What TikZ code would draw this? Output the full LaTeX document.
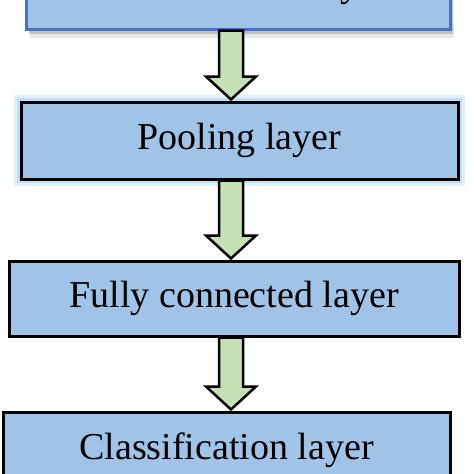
\documentclass[tikz,border=0pt]{standalone}
\usepackage{fontspec}
\setmainfont{Liberation Serif}
\usetikzlibrary{
  calc,
  shadows
}
\definecolor{layerFill}{HTML}{A0C3E8}
\definecolor{layerEdge}{HTML}{4472C4}
\definecolor{arrowFill}{HTML}{C5E0B4}
\definecolor{glowBlue}{HTML}{A8D4FA}
\tikzset{
  every layer/.style={draw,line width=3pt,fill=layerFill,inner sep=0pt,
    minimum height=77pt,font=\fontsize{38}{44}\selectfont},
  layer/.style={every layer,minimum width=#1},
  block arrow/.style={draw,line width=2.5pt,fill=arrowFill,line join=miter},
}

\begin{document}
\begin{tikzpicture}[
  x=1pt,y=-1pt,
  glow/.style={
    preaction={draw=glowBlue,line width=14pt,opacity=.35},
    preaction={draw=glowBlue,line width=8pt,opacity=.6}
  },
  top shadow/.style={
    drop shadow={shadow xshift=4pt,shadow yshift=-9pt,opacity=.15,fill=black!60},
    drop shadow={shadow xshift=3pt,shadow yshift=-5pt,opacity=.3,fill=black!60}
  },
]
\path[use as bounding box,clip] (0,0) rectangle (474,474);
\node[layer=424pt,draw=layerEdge,minimum height=84pt,top shadow] (conv) at (238,-13) {Convolutional layer};
\node[layer=437pt,glow] (pool) at (239.5,140.5) {Pooling layer};
\node[layer=450pt,minimum height=75pt] (full) at (234,298.5) {Fully connected layer};
\node[layer=447pt] (class) at (226.5,450.5) {Classification layer};
\coordinate (axis) at (231,0);
\foreach \a/\b in {conv/pool,pool/full,full/class} {
  \draw[block arrow] ($(axis |- \a.south)+(-12,0)$) -- ($(axis |- \b.north)+(-12,-24)$)
    -- ($(axis |- \b.north)+(-25,-24)$) -- ($(axis |- \b.north)+(0,-1)$)
    -- ($(axis |- \b.north)+(25,-24)$) -- ($(axis |- \b.north)+(12,-24)$)
    -- ($(axis |- \a.south)+(12,0)$) -- cycle;
}
\end{tikzpicture}
\end{document}
